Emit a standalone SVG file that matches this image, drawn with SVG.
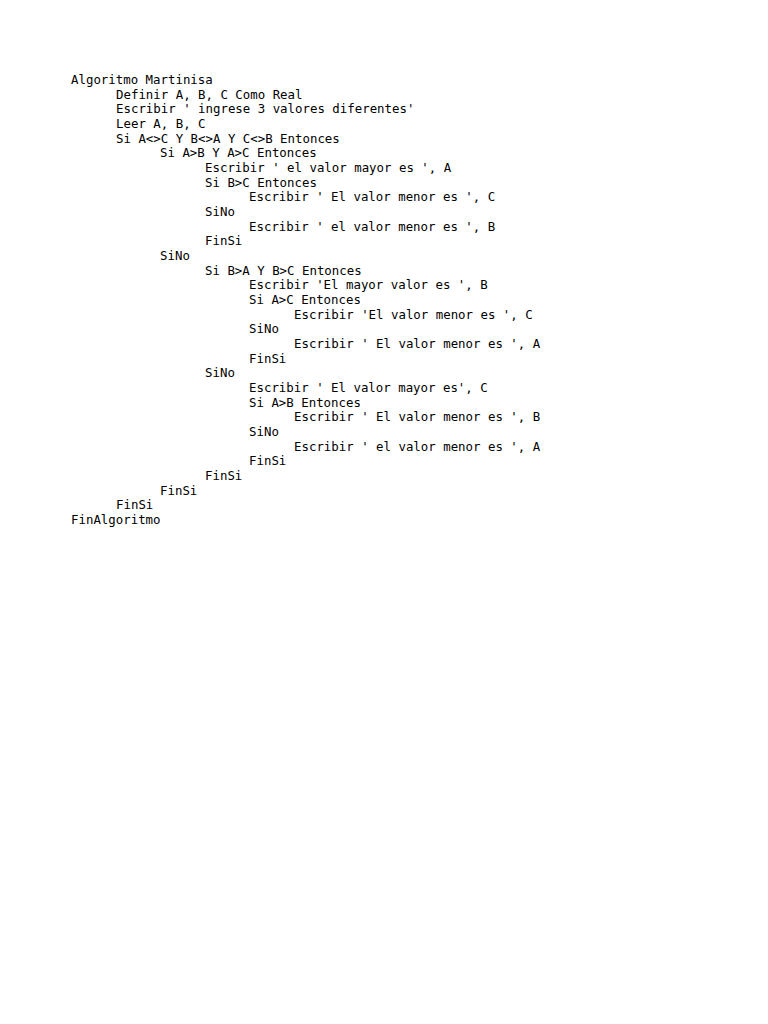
<svg xmlns="http://www.w3.org/2000/svg" width="768" height="1024" viewBox="0 0 768 1024">
<style>text{font-family:"DejaVu Sans Mono","Liberation Mono",monospace;font-size:12.4px;fill:#000;white-space:pre}</style>
<rect width="768" height="1024" fill="#fff"/>
<g id="code">
<text x="71" y="84">Algoritmo Martinisa</text>
<text x="116" y="98.7">Definir A, B, C Como Real</text>
<text x="116" y="113.3">Escribir ' ingrese 3 valores diferentes'</text>
<text x="116" y="128">Leer A, B, C</text>
<text x="116" y="142.7">Si A&lt;&gt;C Y B&lt;&gt;A Y C&lt;&gt;B Entonces</text>
<text x="160" y="157.3">Si A&gt;B Y A&gt;C Entonces</text>
<text x="205" y="172">Escribir ' el valor mayor es ', A</text>
<text x="205" y="186.7">Si B&gt;C Entonces</text>
<text x="249" y="201.3">Escribir ' El valor menor es ', C</text>
<text x="205" y="216">SiNo</text>
<text x="249" y="230.7">Escribir ' el valor menor es ', B</text>
<text x="205" y="245.3">FinSi</text>
<text x="160" y="260">SiNo</text>
<text x="205" y="274.7">Si B&gt;A Y B&gt;C Entonces</text>
<text x="249" y="289.3">Escribir 'El mayor valor es ', B</text>
<text x="249" y="304">Si A&gt;C Entonces</text>
<text x="294" y="318.7">Escribir 'El valor menor es ', C</text>
<text x="249" y="333.3">SiNo</text>
<text x="294" y="348">Escribir ' El valor menor es ', A</text>
<text x="249" y="362.7">FinSi</text>
<text x="205" y="377.3">SiNo</text>
<text x="249" y="392">Escribir ' El valor mayor es', C</text>
<text x="249" y="406.7">Si A&gt;B Entonces</text>
<text x="294" y="421.3">Escribir ' El valor menor es ', B</text>
<text x="249" y="436">SiNo</text>
<text x="294" y="450.7">Escribir ' el valor menor es ', A</text>
<text x="249" y="465.3">FinSi</text>
<text x="205" y="480">FinSi</text>
<text x="160" y="494.7">FinSi</text>
<text x="116" y="509.3">FinSi</text>
<text x="71" y="524">FinAlgoritmo</text>
</g>
</svg>
